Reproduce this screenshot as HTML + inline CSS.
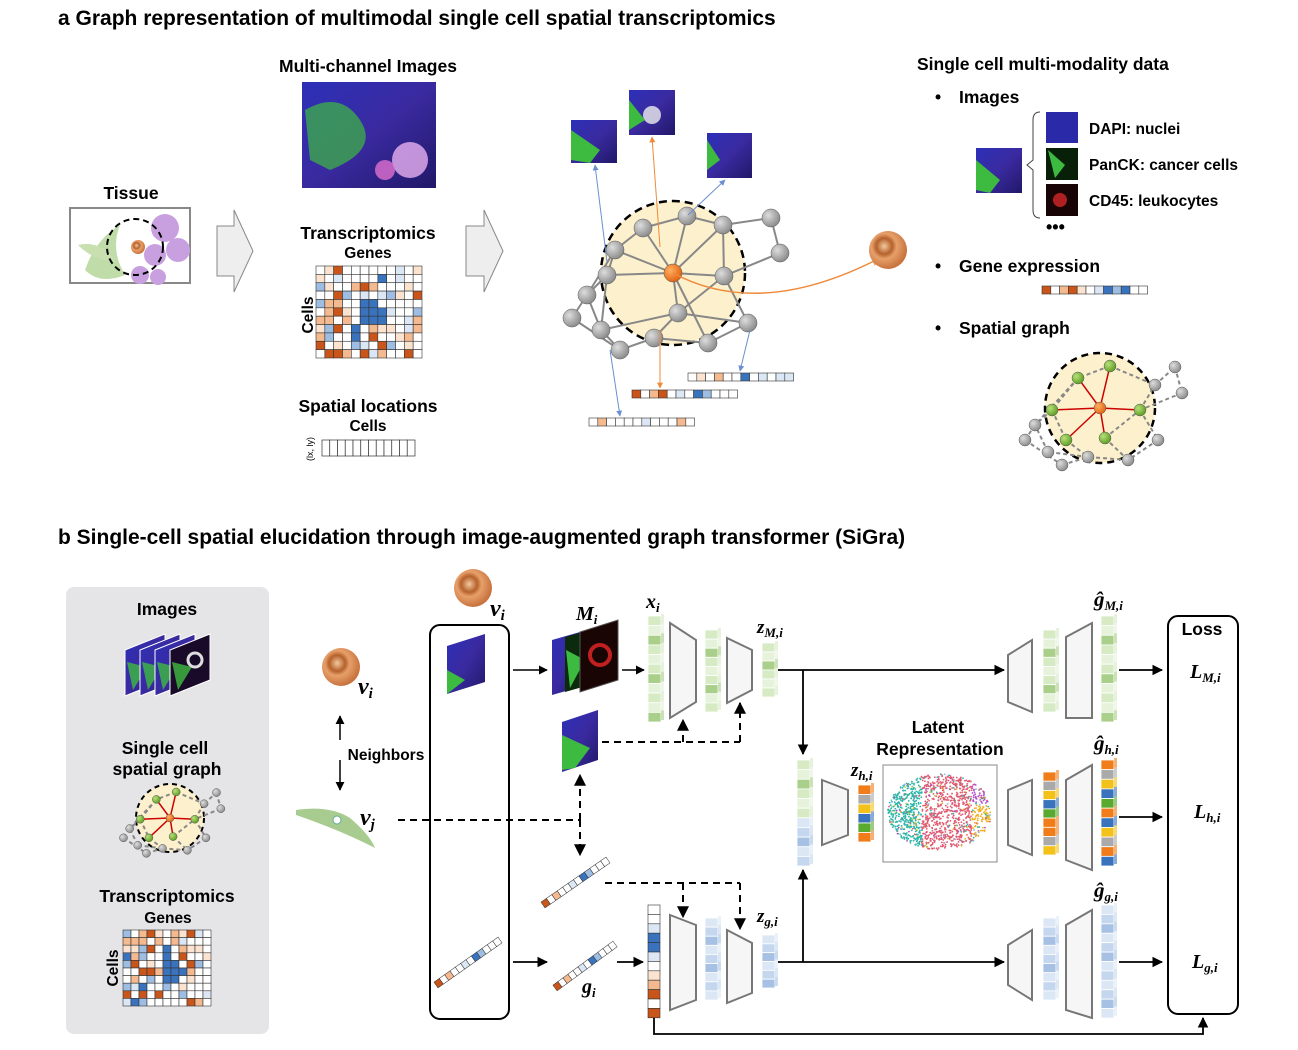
<!DOCTYPE html>
<html><head><meta charset="utf-8">
<style>
html,body{margin:0;padding:0;background:#fff;}
svg{display:block;font-family:"Liberation Sans",sans-serif;}
.t{font-weight:bold;font-size:21px;}
.l{font-weight:bold;font-size:17.5px;}
.s{font-weight:bold;font-size:15.5px;}
.m{font-family:"Liberation Serif",serif;font-style:italic;font-weight:bold;}
</style></head><body>
<svg id="s" width="1298" height="1050" viewBox="0 0 1298 1050" xmlns="http://www.w3.org/2000/svg">
<defs>
<marker id="ah" viewBox="0 0 10 10" refX="9" refY="5" markerWidth="6" markerHeight="6" orient="auto"><path d="M0,0L10,5L0,10z" fill="#000"/></marker>
<marker id="ao" viewBox="0 0 10 10" refX="9" refY="5" markerWidth="6" markerHeight="6" orient="auto"><path d="M0,0L10,5L0,10z" fill="#f08a3a"/></marker>
<marker id="ab" viewBox="0 0 10 10" refX="9" refY="5" markerWidth="6" markerHeight="6" orient="auto"><path d="M0,0L10,5L0,10z" fill="#6b8fd0"/></marker>
<radialGradient id="cell" cx="40%" cy="40%" r="60%"><stop offset="0" stop-color="#f3c9a0"/><stop offset="0.35" stop-color="#b5612b"/><stop offset="0.55" stop-color="#e7a06a"/><stop offset="1" stop-color="#c8733e"/></radialGradient>
<radialGradient id="gn" cx="35%" cy="35%" r="70%"><stop offset="0" stop-color="#ddd"/><stop offset="1" stop-color="#888"/></radialGradient>
<radialGradient id="on" cx="35%" cy="35%" r="70%"><stop offset="0" stop-color="#ffb060"/><stop offset="1" stop-color="#e06010"/></radialGradient>
<radialGradient id="grn" cx="35%" cy="35%" r="70%"><stop offset="0" stop-color="#b8e07a"/><stop offset="1" stop-color="#5a9a20"/></radialGradient>
<linearGradient id="img" x1="0" y1="0" x2="1" y2="1"><stop offset="0" stop-color="#2c30b8"/><stop offset="0.5" stop-color="#3a2aa0"/><stop offset="1" stop-color="#201868"/></linearGradient>
</defs>
<text x="58" y="25" class="t">a Graph representation of multimodal single cell spatial transcriptomics</text>
<text x="58" y="544" class="t">b Single-cell spatial elucidation through image-augmented graph transformer (SiGra)</text>

<!-- tissue -->
<text x="131" y="199" class="l" text-anchor="middle">Tissue</text>
<rect x="70" y="208" width="120" height="75" fill="#fff" stroke="#888" stroke-width="2"/>
<path d="M85,270 Q95,240 120,225 Q110,250 125,275 Q100,285 85,270Z" fill="#b8d8a0" opacity="0.9"/>
<path d="M78,245 Q100,240 115,260 Q95,262 78,245Z" fill="#c8e0b0"/>
<circle cx="165" cy="228" r="14" fill="#c8a0e0"/><circle cx="178" cy="250" r="12" fill="#c8a0e0"/>
<circle cx="155" cy="255" r="11" fill="#c8a0e0"/><circle cx="140" cy="275" r="9" fill="#c8a0e0"/><circle cx="158" cy="277" r="8" fill="#c8a0e0"/>
<circle cx="135" cy="247" r="28" fill="none" stroke="#000" stroke-width="2" stroke-dasharray="6,4"/>
<circle cx="138" cy="247" r="7" fill="url(#cell)"/>
<path d="M217,226H234V210L253,251L234,292V276H217Z" fill="#eee" stroke="#888"/>
<path d="M466,226H484V210L503,251L484,292V276H466Z" fill="#eee" stroke="#888"/>

<text x="368" y="72" class="l" text-anchor="middle">Multi-channel Images</text>
<rect x="302" y="82" width="134" height="106" fill="url(#img)"/>
<path d="M305,110 Q340,90 360,120 T330,170 L310,160Z" fill="#3dbb40" opacity="0.7"/>
<circle cx="410" cy="160" r="18" fill="#e8b0f0" opacity="0.8"/>
<circle cx="385" cy="170" r="10" fill="#e070d0" opacity="0.8"/>

<text x="368" y="239" class="l" text-anchor="middle">Transcriptomics</text>
<text x="368" y="258" class="s" text-anchor="middle">Genes</text>
<text x="313" y="315" class="s" text-anchor="middle" transform="rotate(-90 313 315)">Cells</text>
<g id="mat1"></g>
<text x="368" y="412" class="l" text-anchor="middle">Spatial locations</text>
<text x="368" y="431" class="s" text-anchor="middle">Cells</text>
<text x="313" y="449" font-size="9" text-anchor="middle" transform="rotate(-90 313 449)">(lx, ly)</text>
<g id="loc"></g>

<circle cx="673" cy="273" r="72" fill="#fdf0cc" stroke="#000" stroke-width="2.5" stroke-dasharray="8,5"/>
<g id="ga"></g>
<rect x="571" y="120" width="46" height="43" fill="url(#img)"/><path d="M571,130 L600,150 L590,163 L571,160Z" fill="#3dbb40"/>
<rect x="629" y="90" width="46" height="45" fill="url(#img)"/><circle cx="652" cy="115" r="9" fill="#eee" opacity="0.8"/><path d="M629,100 L645,120 L629,130Z" fill="#3dbb40"/>
<rect x="707" y="133" width="45" height="45" fill="url(#img)"/><path d="M707,140 L720,160 L707,170Z" fill="#3dbb40"/>
<line x1="607" y1="262" x2="595" y2="165" stroke="#6b8fd0" marker-end="url(#ab)"/>
<line x1="660" y1="247" x2="652" y2="137" stroke="#f08a3a" marker-end="url(#ao)"/>
<line x1="688" y1="215" x2="725" y2="180" stroke="#6b8fd0" marker-end="url(#ab)"/>
<path d="M673,273 Q760,320 880,258" fill="none" stroke="#f08a3a" stroke-width="1.5" marker-end="url(#ao)"/>
<circle cx="888" cy="250" r="19" fill="url(#cell)"/>
<line x1="660" y1="330" x2="660" y2="388" stroke="#f08a3a" marker-end="url(#ao)"/>
<line x1="750" y1="330" x2="740" y2="371" stroke="#6b8fd0" marker-end="url(#ab)"/>
<line x1="610" y1="350" x2="620" y2="416" stroke="#6b8fd0" marker-end="url(#ab)"/>
<g id="bars"></g>

<text x="917" y="70" class="l">Single cell multi-modality data</text>
<text x="935" y="103" class="l">•</text><text x="959" y="103" class="l">Images</text>
<rect x="976" y="148" width="46" height="45" fill="url(#img)"/><path d="M976,160 L1000,180 L990,193 L976,190Z" fill="#3dbb40"/>
<path d="M1040,112 Q1033,112 1033,120 V160 L1027,165 L1033,170 V210 Q1033,218 1040,218" fill="none" stroke="#444"/>
<rect x="1046" y="112" width="32" height="31" fill="#2a2aa8"/>
<rect x="1046" y="148" width="32" height="32" fill="#082008"/><path d="M1048,150 L1065,165 L1055,178Z" fill="#3dbb40"/>
<rect x="1046" y="184" width="32" height="32" fill="#180404"/><circle cx="1060" cy="200" r="7" fill="#b02020"/>
<text x="1089" y="134" class="s">DAPI: nuclei</text>
<text x="1089" y="170" class="s">PanCK: cancer cells</text>
<text x="1089" y="206" class="s">CD45: leukocytes</text>
<text x="1046" y="233" font-size="18" font-weight="bold">•••</text>
<text x="935" y="272" class="l">•</text><text x="959" y="272" class="l">Gene expression</text>
<text x="935" y="334" class="l">•</text><text x="959" y="334" class="l">Spatial graph</text>
<circle cx="1100" cy="408" r="55" fill="#fdf0cc" stroke="#000" stroke-width="2.5" stroke-dasharray="7,5"/>
<g id="gb"></g>

<rect x="66" y="587" width="203" height="447" rx="8" fill="#e5e4e6"/>
<text x="167" y="615" class="l" text-anchor="middle">Images</text>
<g id="stk"></g>
<text x="165" y="754" class="l" text-anchor="middle">Single cell</text>
<text x="167" y="775" class="l" text-anchor="middle">spatial graph</text>
<circle cx="170" cy="818" r="34" fill="#fdf0cc" stroke="#000" stroke-width="2" stroke-dasharray="5,4"/>
<g id="gc"></g>
<text x="167" y="902" class="l" text-anchor="middle">Transcriptomics</text>
<text x="168" y="923" class="s" text-anchor="middle">Genes</text>
<text x="118" y="968" class="s" text-anchor="middle" transform="rotate(-90 118 968)">Cells</text>
<g id="mat2"></g>

<circle cx="341" cy="667" r="19" fill="url(#cell)"/>
<text x="358" y="694" class="m" font-size="24">v<tspan font-size="15" dy="4">i</tspan></text>
<line x1="340" y1="740" x2="340" y2="716" stroke="#000" stroke-width="1.5" marker-end="url(#ah)"/>
<line x1="340" y1="760" x2="340" y2="790" stroke="#000" stroke-width="1.5" marker-end="url(#ah)"/>
<text x="386" y="760" class="s" text-anchor="middle">Neighbors</text>
<path d="M296,810 Q330,805 350,818 Q370,835 375,848 Q340,830 296,815Z" fill="#a8cc90"/>
<circle cx="337" cy="820" r="4" fill="#fff" stroke="#6a9"/>
<text x="360" y="825" class="m" font-size="24">v<tspan font-size="15" dy="4">j</tspan></text>

<rect x="430" y="625" width="79" height="394" rx="10" fill="none" stroke="#000" stroke-width="2"/>
<circle cx="473" cy="588" r="19" fill="url(#cell)"/>
<text x="490" y="616" class="m" font-size="24">v<tspan font-size="15" dy="4">i</tspan></text>
<polygon points="447,646 485,634 485,682 447,694" fill="url(#img)"/><path d="M447,670 L465,680 L447,694Z" fill="#3dbb40"/>
<polygon points="562,722 598,710 598,760 562,772" fill="url(#img)"/><path d="M562,735 L590,748 L575,768 L562,770Z" fill="#3dbb40"/>
<text x="576" y="620" class="m" font-size="20">M<tspan font-size="13" dy="4">i</tspan></text>
<polygon points="552,640 580,632 580,687 552,695" fill="url(#img)"/>
<polygon points="565,637 593,629 593,684 565,692" fill="#0c2a0c"/><path d="M566,650 L585,660 L570,688Z" fill="#3dbb40"/>
<polygon points="580,632 618,620 618,680 580,692" fill="#1a0505" stroke="#555"/><circle cx="600" cy="655" r="10" fill="none" stroke="#c02020" stroke-width="4"/>
<line x1="513" y1="670" x2="547" y2="670" stroke="#000" stroke-width="1.5" marker-end="url(#ah)"/>
<line x1="622" y1="670" x2="644" y2="670" stroke="#000" stroke-width="1.5" marker-end="url(#ah)"/>
<text x="646" y="608" class="m" font-size="20">x<tspan font-size="13" dy="4">i</tspan></text>
<text x="757" y="633" class="m" font-size="19">z<tspan font-size="13" dy="4">M,i</tspan></text>
<text x="1094" y="606" class="m" font-size="21">ĝ<tspan font-size="13" dy="4">M,i</tspan></text>
<text x="1094" y="750" class="m" font-size="21">ĝ<tspan font-size="13" dy="4">h,i</tspan></text>
<text x="1094" y="897" class="m" font-size="21">ĝ<tspan font-size="13" dy="4">g,i</tspan></text>
<text x="851" y="776" class="m" font-size="19">z<tspan font-size="13" dy="4">h,i</tspan></text>
<text x="757" y="922" class="m" font-size="19">z<tspan font-size="13" dy="4">g,i</tspan></text>
<text x="582" y="993" class="m" font-size="20">g<tspan font-size="13" dy="4">i</tspan></text>
<text x="938" y="733" class="l" text-anchor="middle">Latent</text>
<text x="940" y="755" class="l" text-anchor="middle">Representation</text>
<rect x="883" y="765" width="114" height="97" fill="#fff" stroke="#888"/>
<g id="umap"></g>

<rect x="1168" y="616" width="70" height="398" rx="10" fill="none" stroke="#000" stroke-width="2"/>
<text x="1202" y="635" class="l" text-anchor="middle">Loss</text>
<text x="1190" y="678" class="m" font-size="20">L<tspan font-size="13" dy="4">M,i</tspan></text>
<text x="1194" y="818" class="m" font-size="20">L<tspan font-size="13" dy="4">h,i</tspan></text>
<text x="1192" y="968" class="m" font-size="20">L<tspan font-size="13" dy="4">g,i</tspan></text>
</svg>
<script>
var S=document.getElementById('s'),NS='http://www.w3.org/2000/svg';
function E(t,a,p){var e=document.createElementNS(NS,t);for(var k in a)e.setAttribute(k,a[k]);(p||S).appendChild(e);return e;}
function rnd(i){var x=Math.sin(i*12.9898)*43758.5453;return x-Math.floor(x);}
function matrix(g,x,y,w,h,nx,ny,seed){var G=document.getElementById(g);var cw=w/nx,ch=h/ny;
 for(var i=0;i<nx;i++)for(var j=0;j<ny;j++){var r=rnd(seed+i*31+j*7);var c='#fff';
  if(r<0.12)c='#c9551a';else if(r<0.25)c='#f4b98e';else if(r<0.33)c='#fbe3d0';else if(r<0.4)c='#dbe7f5';else if(r<0.46)c='#9dbde3';else if(r<0.5)c='#3a73bd';
  if(i>=5&&i<=7&&j>=4&&j<=6&&r<0.7)c='#3a73bd';
  E('rect',{x:x+i*cw,y:y+j*ch,width:cw,height:ch,fill:c,stroke:'#333','stroke-width':0.6},G);}}
matrix('mat1',316,266,106,92,12,11,1);
matrix('mat2',123,930,88,76,11,10,5);
var L=document.getElementById('loc');for(var i=0;i<12;i++)E('rect',{x:322+i*7.75,y:440,width:7.75,height:16,fill:'#fff',stroke:'#333','stroke-width':0.7},L);
function bar(g,x,y,n,w,h,cols){var G=document.getElementById(g)||S;for(var i=0;i<n;i++)E('rect',{x:x+i*w,y:y,width:w,height:h,fill:cols[i%cols.length],stroke:'#333','stroke-width':0.6},G);}
var bc=['#c9551a','#fff','#f4b98e','#c9551a','#fbe3d0','#fff','#dbe7f5','#3a73bd','#9dbde3','#3a73bd','#fff','#fff'];
bar('bars',632,390,12,8.8,8,['#c9551a','#fff','#f4b98e','#c9551a','#fff','#dbe7f5','#fff','#3a73bd','#9dbde3','#fff','#fff','#fff']);
bar('bars',688,373,12,8.8,8,['#fff','#fbe3d0','#fff','#f4b98e','#fff','#fff','#3a73bd','#fff','#dbe7f5','#fff','#dbe7f5','#dbe7f5']);
bar('bars',589,418,12,8.8,8,['#fff','#f4b98e','#fff','#fff','#fff','#fff','#dbe7f5','#fff','#fff','#fff','#f4b98e','#fff']);
bar('bars',1042,286,12,8.8,8,bc);
function graph(g,nodes,edges,center,nf,ef,r,dash){var G=document.getElementById(g);
 edges.forEach(function(e){var a=nodes[e[0]],b=nodes[e[1]];E('line',{x1:a[0],y1:a[1],x2:b[0],y2:b[1],stroke:e[2]||ef,'stroke-width':e[2]?1.5:2,'stroke-dasharray':(dash&&!e[2])?'4,3':''},G);});
 nodes.forEach(function(n,i){E('circle',{cx:n[0],cy:n[1],r:r,fill:i==center?'url(#on)':(n[2]||nf),stroke:'#555','stroke-width':0.5},G);});}
var na=[[673,273],[687,216],[643,228],[607,275],[615,250],[724,276],[748,323],[708,343],[654,338],[620,350],[601,330],[587,295],[572,318],[678,313],[771,218],[780,253],[723,225]];
var ea=[[0,1],[0,2],[0,3],[0,4],[0,5],[0,13],[0,7],[1,2],[1,16],[2,4],[3,4],[3,11],[3,10],[4,11],[5,6],[5,16],[5,13],[6,7],[7,8],[8,9],[9,10],[10,11],[11,12],[12,9],[13,8],[13,6],[14,15],[15,5],[14,16],[13,10],[16,0]];
graph('ga',na,ea,0,'url(#gn)','#888',9,false);
var nb=[[1100,408],[1110,366],[1078,378],[1052,410],[1066,440],[1105,438],[1140,410],[1155,385],[1175,367],[1182,393],[1158,440],[1128,460],[1088,457],[1048,452],[1035,425],[1025,440],[1062,465]];
var eb=[[0,1,'#c00'],[0,2,'#c00'],[0,3,'#c00'],[0,4,'#c00'],[0,5,'#c00'],[0,6,'#c00'],[1,2],[2,3],[3,4],[4,12],[5,11],[6,7],[7,8],[8,9],[9,6],[6,10],[10,11],[11,12],[12,13],[13,14],[14,15],[15,16],[16,12],[3,14],[1,7],[5,6],[2,14]];
var nbn=nb.map(function(n,i){return [n[0],n[1],(i>=1&&i<=6)?'url(#grn)':'url(#gn)'];});
graph('gb',nbn,eb,0,'url(#gn)','#888',6,true);
var nc=nb.map(function(n,i){return [170+(n[0]-1100)*0.62,818+(n[1]-408)*0.62,(i>=1&&i<=6)?'url(#grn)':'url(#gn)'];});
graph('gc',nc,eb,0,'url(#gn)','#888',4,true);
var st=document.getElementById('stk');
for(var k=0;k<4;k++){var x=125+k*15;E('polygon',{points:(x)+','+(650)+' '+(x+40)+','+(634)+' '+(x+40)+','+(680)+' '+(x)+','+(696),fill:k==3?'#1a0a2a':'url(#img)',stroke:'#fff','stroke-width':1},st);
 E('path',{d:'M'+(x+2)+',662 L'+(x+22)+',667 L'+(x+8)+',690Z',fill:'#3dbb40',opacity:0.8},st);}
E('circle',{cx:195,cy:660,r:7,fill:'none',stroke:'#ddd','stroke-width':3},st);
function dbar(x1,y1,x2,y2,cols){var n=cols.length;var dx=(x2-x1)/n,dy=(y2-y1)/n;var ang=Math.atan2(dy,dx)*180/Math.PI;var len=Math.sqrt(dx*dx+dy*dy);
 for(var i=0;i<n;i++){var cx=x1+dx*i,cy=y1+dy*i;E('rect',{x:0,y:-3.5,width:len,height:7,fill:cols[i],stroke:'#333','stroke-width':0.5,transform:'translate('+cx+','+cy+') rotate('+ang+')'});}}
var dc=['#c9551a','#fff','#f4b98e','#fff','#fff','#dbe7f5','#fff','#3a73bd','#9dbde3','#fff','#fff','#fff'];
dbar(436,985,500,940,dc);dbar(543,905,608,860,dc);dbar(555,988,615,944,dc);
var G1=['#d6eac4','#e6f2da','#a9cf8a','#d6eac4','#e6f2da','#d6eac4','#a9cf8a','#e6f2da'];
var B1=['#dbe7f5','#c5d7ee','#a7c1e4','#dbe7f5','#c5d7ee','#a7c1e4','#dbe7f5','#c5d7ee'];
var M1=['#f07d1a','#aaa','#f2c21a','#3a73bd','#5aaa30','#f07d1a'];
function col(x,y1,y2,cols,w){w=w||13;var n=Math.round((y2-y1)/9.5);var h=(y2-y1)/n;for(var i=0;i<n;i++){E('rect',{x:x,y:y1+i*h,width:w,height:h,fill:cols[i%cols.length],stroke:'#fff','stroke-width':0.8});E('rect',{x:x+w,y:y1+i*h-2,width:3,height:h,fill:cols[i%cols.length],opacity:0.6});}}
function trap(x1,a1,b1,x2,a2,b2){E('polygon',{points:x1+','+a1+' '+x2+','+a2+' '+x2+','+b2+' '+x1+','+b1,fill:'#f6f6f6',stroke:'#777','stroke-width':2});}
function lin(x1,y1,x2,y2,dash,arr){E('line',{x1:x1,y1:y1,x2:x2,y2:y2,stroke:'#000','stroke-width':dash?2:1.8,'stroke-dasharray':dash?'7,5':'','marker-end':arr?'url(#ah)':''});}
col(648,616,722,G1);trap(670,623,718,696,640,702);col(705,630,712,G1);trap(727,638,703,752,650,690);col(762,643,697,G1);
trap(1008,655,702,1032,640,712);col(1043,630,712,G1);trap(1066,637,718,1092,623,718);col(1101,616,722,G1);
col(797,760,866,G1.slice(0,6).concat(B1),13);trap(822,780,845,848,790,835);col(858,785,842,M1);
trap(1008,790,845,1032,780,855);col(1043,772,855,M1);trap(1066,780,860,1092,765,870);col(1101,760,866,['#f07d1a','#aaa','#f2c21a','#3a73bd','#5aaa30','#f07d1a','#3a73bd','#f2c21a','#aaa','#f07d1a','#3a73bd']);
var gcol=['#fff','#fff','#dbe7f5','#3a73bd','#3a73bd','#dbe7f5','#fff','#fbe3d0','#f4b98e','#c9551a','#fff','#c9551a'];
for(var i=0;i<12;i++)E('rect',{x:648,y:905+i*9.4,width:12,height:9.4,fill:gcol[i],stroke:'#333','stroke-width':0.6});
trap(670,915,1010,696,925,1000);col(705,918,1000,B1);trap(727,930,1003,752,943,993);col(762,935,988,B1);
trap(1008,945,985,1032,930,1000);col(1043,918,1000,B1);trap(1066,925,1010,1092,910,1018);col(1101,905,1018,B1);
lin(778,670,1004,670,0,1);lin(803,670,803,754,0,1);lin(778,962,1004,962,0,1);lin(803,962,803,870,0,1);
[670,817,962].forEach(function(y){lin(1119,y,1162,y,0,1);});
lin(513,962,547,962,0,1);lin(617,962,643,962,0,1);
E('polyline',{points:'654,1018 654,1034 1203,1034 1203,1018',fill:'none',stroke:'#000','stroke-width':1.8,'marker-end':'url(#ah)'});
lin(602,742,740,742,1);lin(740,742,740,703,1,1);lin(683,742,683,720,1,1);
lin(398,820,580,820,1);lin(580,820,580,775,1,1);lin(580,820,580,855,1,1);
lin(605,883,740,883,1);lin(740,883,740,929,1,1);lin(683,883,683,917,1,1);
var U=document.getElementById('umap');var uc=['#2bb5a8','#2bb5a8','#e05a70','#b050d0','#f0b020','#7ac0e0','#e05a70','#2bb5a8','#d0d040'];
for(var i=0;i<1400;i++){var a=rnd(i+3)*Math.PI*2,rr=Math.sqrt(rnd(i+7));var x=940+Math.cos(a)*rr*52,y=812+Math.sin(a)*rr*38;var ci=x<922?0:(x>972?(y<805?3:4):(y<800?2:6));if(rnd(i+11)<0.2)ci=Math.floor(rnd(i+13)*9);E('circle',{cx:x,cy:y,r:0.9,fill:uc[ci]},U);}
</script>
</body></html>
